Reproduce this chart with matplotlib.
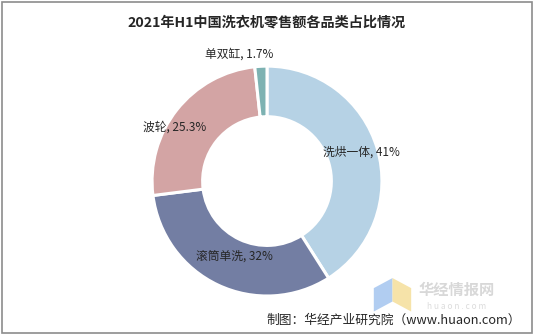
import matplotlib.pyplot as plt
from matplotlib.patches import Rectangle, Polygon

plt.rcParams['font.family'] = ['Noto Sans CJK SC', 'DejaVu Sans']

# 各品类零售额占比（%）
categories = ['洗烘一体', '滚筒单洗', '波轮', '单双缸']
shares = [41, 32, 25.3, 1.7]
colors = ['#b6d2e5', '#737ea3', '#d3a4a4', '#7db2b2']

fig = plt.figure(figsize=(5.34, 3.35), dpi=100)
fig.patch.set_facecolor('white')

# 外框
fig.add_artist(Rectangle((0.004, 0.006), 0.992, 0.988, transform=fig.transFigure,
                         fill=False, edgecolor='#8c8c8c', linewidth=1.2))

fig.text(0.5, 0.932, '2021年H1中国洗衣机零售额各品类占比情况', ha='center', va='center',
         fontsize=10.2, fontweight='bold', color='#262626')

# 环形图
ax = fig.add_axes([0.5 - 0.226, 0.099, 0.452, 0.721])
wedges, _ = ax.pie(shares, colors=colors, startangle=90, counterclock=False,
                   radius=1.0, wedgeprops=dict(width=0.44, edgecolor='white', linewidth=2.2))
ax.set_aspect('equal')
ax.set_xlim(-1.05, 1.05)
ax.set_ylim(-1.05, 1.05)

label_pos = [(0.82, 0.25), (-0.28, -0.65), (-0.80, 0.47), (-0.24, 1.10)]
for name, val, (x, y) in zip(categories, shares, label_pos):
    ax.text(x, y, f'{name}, {val:g}%', ha='center', va='center', fontsize=8.5, color='#262626')

# 水印
fig.add_artist(Polygon([(0.70, 0.07), (0.735, 0.10), (0.735, 0.17), (0.70, 0.14)],
                       closed=True, transform=fig.transFigure, facecolor='#a9c8f0', edgecolor='none', alpha=0.9))
fig.add_artist(Polygon([(0.735, 0.10), (0.77, 0.07), (0.77, 0.14), (0.735, 0.17)],
                       closed=True, transform=fig.transFigure, facecolor='#f5e0a0', edgecolor='none', alpha=0.9))
fig.text(0.855, 0.135, '华经情报网', ha='center', va='center', fontsize=11,
         fontweight='bold', color='#d8d8d8')
fig.text(0.855, 0.085, 'h u a o n . c o m', ha='center', va='center', fontsize=6, color='#dcdcdc')

fig.text(0.975, 0.045, '制图：华经产业研究院（www.huaon.com）', ha='right', va='center',
         fontsize=9.2, color='#262626')

fig.savefig('out.png', dpi=100, facecolor='white')
